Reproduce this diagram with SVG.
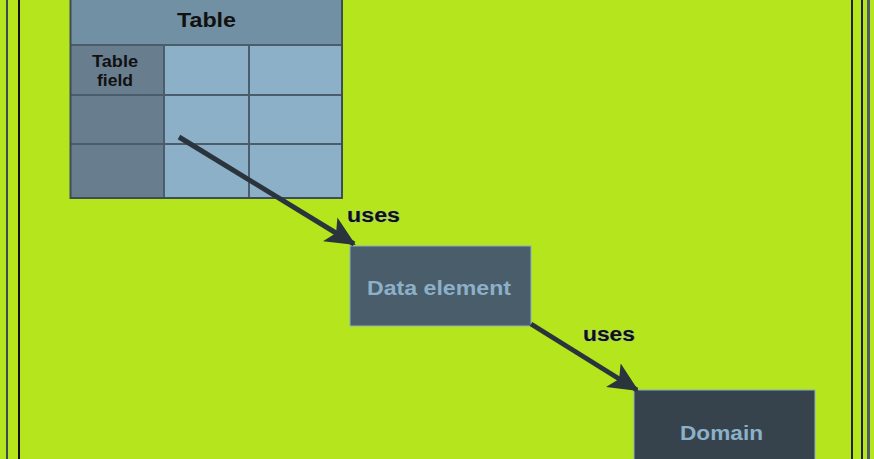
<svg xmlns="http://www.w3.org/2000/svg" width="874" height="459" viewBox="0 0 874 459">
<style>
.lbl{font-family:"Liberation Sans",Arial,sans-serif;font-weight:bold;}
.uses{font-family:"Liberation Sans",Arial,sans-serif;font-weight:bold;font-size:20px;fill:#111;stroke:#8cb0c8;stroke-width:0.7;paint-order:stroke;}
.conn{stroke:#2a343c;stroke-width:5;fill:none;marker-end:url(#ah);}
.grid{stroke:#4b5d6a;stroke-width:2;fill:none;}
</style>
<defs>
<marker id="ah" markerUnits="userSpaceOnUse" markerWidth="32" markerHeight="28" refX="28" refY="14" orient="auto">
<path d="M0,0 L30,14 L0,28 L7,14 Z" fill="#2a343c"/>
</marker>
</defs>
<rect width="874" height="459" fill="#b5e51d"/>
<g id="frame">
<line x1="7" y1="0" x2="7" y2="459" stroke="#3d4a55" stroke-width="2"/>
<line x1="19" y1="0" x2="19" y2="459" stroke="#111" stroke-width="2"/>
<line x1="852" y1="0" x2="852" y2="459" stroke="#222" stroke-width="2"/>
<line x1="862" y1="0" x2="862" y2="459" stroke="#222" stroke-width="2"/>
<rect x="867" y="0" width="3" height="459" fill="#4b5d6a"/>
</g>
<g id="table">
<rect x="70" y="0" width="272" height="45" fill="#7190a3"/>
<rect x="70" y="45" width="94" height="153" fill="#687d8e"/>
<rect x="164" y="45" width="178" height="153" fill="#8cb0c8"/>
<line class="grid" x1="70" y1="45" x2="342" y2="45"/>
<line class="grid" x1="70" y1="95" x2="342" y2="95"/>
<line class="grid" x1="70" y1="144" x2="342" y2="144"/>
<line class="grid" x1="164" y1="45" x2="164" y2="198"/>
<line class="grid" x1="249" y1="45" x2="249" y2="198"/>
<rect x="70.5" y="-1" width="271.5" height="199" fill="none" stroke="#3e4d58" stroke-width="2"/>
<text class="lbl" x="177" y="27" font-size="21" textLength="59" lengthAdjust="spacingAndGlyphs" fill="#111">Table</text>
<text class="lbl" x="92" y="67" font-size="16" textLength="46" lengthAdjust="spacingAndGlyphs" fill="#111">Table</text>
<text class="lbl" x="97" y="86" font-size="16" textLength="36" lengthAdjust="spacingAndGlyphs" fill="#111">field</text>
</g>
<g id="data-element">
<rect x="350" y="246" width="181" height="80" fill="#4a5d6a" stroke="#8cb0c8" stroke-width="1"/>
<text class="lbl" x="367" y="295" font-size="21" textLength="144" lengthAdjust="spacingAndGlyphs" fill="#8cb0c8">Data element</text>
</g>
<g id="domain">
<rect x="634" y="390" width="181" height="80" fill="#36434c" stroke="#8cb0c8" stroke-width="1"/>
<text class="lbl" x="680" y="440" font-size="21" textLength="83" lengthAdjust="spacingAndGlyphs" fill="#8cb0c8">Domain</text>
</g>
<g id="connectors">
<line class="conn" x1="179" y1="137" x2="354" y2="244"/>
<line class="conn" x1="531" y1="324" x2="637" y2="390"/>
<text class="uses" x="347" y="222" textLength="53" lengthAdjust="spacingAndGlyphs">uses</text>
<text class="uses" x="583" y="341" textLength="52" lengthAdjust="spacingAndGlyphs">uses</text>
</g>
</svg>
